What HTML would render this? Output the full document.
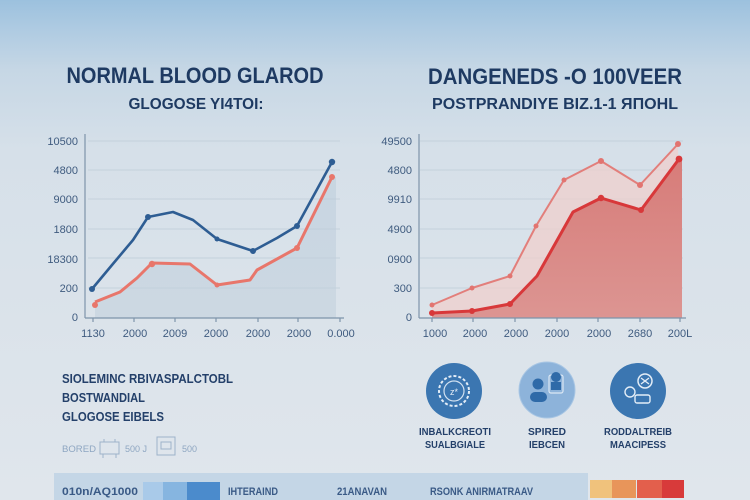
<!DOCTYPE html>
<html><head><meta charset="utf-8"><style>
html,body{margin:0;padding:0;width:750px;height:500px;overflow:hidden}
svg{display:block}
text{font-family:"Liberation Sans",sans-serif}
</style></head><body>
<svg width="750" height="500" viewBox="0 0 750 500" xmlns="http://www.w3.org/2000/svg">
<defs>
<linearGradient id="bg" x1="0" y1="0" x2="0" y2="1">
<stop offset="0" stop-color="#9cc1de"/>
<stop offset="0.06" stop-color="#afcbe2"/>
<stop offset="0.14" stop-color="#c6d7e5"/>
<stop offset="0.3" stop-color="#d6e0e9"/>
<stop offset="1" stop-color="#e0e6ec"/>
</linearGradient>
<linearGradient id="lfill" x1="0" y1="0" x2="0" y2="1">
<stop offset="0" stop-color="#b9cad9" stop-opacity="0.5"/>
<stop offset="1" stop-color="#c3d1dd" stop-opacity="0.6"/>
</linearGradient>
<linearGradient id="rdark" x1="0" y1="0" x2="0" y2="1">
<stop offset="0" stop-color="#d77c79"/>
<stop offset="1" stop-color="#dc9592"/>
</linearGradient>
</defs>
<rect width="750" height="500" fill="url(#bg)"/>

<!-- Titles -->
<g fill="#1e3a62" font-weight="bold" text-anchor="middle">
<text x="195" y="83" font-size="22" textLength="257" lengthAdjust="spacingAndGlyphs">NORMAL BLOOD GLAROD</text>
<text x="196" y="109" font-size="16" textLength="135" lengthAdjust="spacingAndGlyphs">GLOGOSE YI4TOI:</text>
<text x="555" y="84" font-size="22" textLength="254" lengthAdjust="spacingAndGlyphs">DANGENEDS -O 100VEER</text>
<text x="555" y="109" font-size="16" textLength="246" lengthAdjust="spacingAndGlyphs">POSTPRANDIYE  BIZ.1-1 ЯПОНL</text>
</g>

<!-- LEFT CHART -->
<g stroke="#c4d1dc" stroke-width="1">
<line x1="88" y1="141" x2="340" y2="141"/>
<line x1="88" y1="170" x2="340" y2="170"/>
<line x1="88" y1="199" x2="340" y2="199"/>
<line x1="88" y1="229" x2="340" y2="229"/>
<line x1="88" y1="258" x2="340" y2="258"/>
<line x1="88" y1="288" x2="340" y2="288"/>
</g>
<path d="M95,302 L120,292 L137,278 L152,263 L190,264 L217,285 L250,280 L257,270 L297,248 L332,177 L336,177 L336,318 L95,318 Z" fill="url(#lfill)"/>
<g stroke="#7e94aa" stroke-width="1.2" fill="none">
<line x1="85" y1="134" x2="85" y2="318"/>
<line x1="85" y1="318" x2="344" y2="318"/>
<line x1="93" y1="318" x2="93" y2="322"/><line x1="134" y1="318" x2="134" y2="322"/>
<line x1="175" y1="318" x2="175" y2="322"/><line x1="216" y1="318" x2="216" y2="322"/>
<line x1="258" y1="318" x2="258" y2="322"/><line x1="298" y1="318" x2="298" y2="322"/>
<line x1="340" y1="318" x2="340" y2="322"/>
</g>
<polyline points="92,289 112,265 133,240 148,217 173,212 193,220 217,239 253,251 277,238 297,226 332,162" fill="none" stroke="#2e5d93" stroke-width="2.6" stroke-linejoin="round"/>
<g fill="#2e5d93"><circle cx="92" cy="289" r="3"/><circle cx="148" cy="217" r="3"/><circle cx="217" cy="239" r="2.5"/><circle cx="253" cy="251" r="3"/><circle cx="297" cy="226" r="3"/><circle cx="332" cy="162" r="3.2"/></g>
<polyline points="95,302 120,292 137,278 152,263 190,264 217,285 250,280 257,270 297,248 332,177" fill="none" stroke="#e8766b" stroke-width="3" stroke-linejoin="round"/>
<g fill="#e8766b"><circle cx="95" cy="305" r="3"/><circle cx="152" cy="264" r="3.2"/><circle cx="217" cy="285" r="2.5"/><circle cx="297" cy="248" r="3"/><circle cx="332" cy="177" r="3"/></g>
<g fill="#3f5b7f" font-size="11" text-anchor="end">
<text x="78" y="145">10500</text>
<text x="78" y="174">4800</text>
<text x="78" y="203">9000</text>
<text x="78" y="233">1800</text>
<text x="78" y="263">18300</text>
<text x="78" y="292">200</text>
<text x="78" y="321">0</text>
</g>
<g fill="#3f5b7f" font-size="11" text-anchor="middle">
<text x="93" y="337">1130</text>
<text x="135" y="337">2000</text>
<text x="175" y="337">2009</text>
<text x="216" y="337">2000</text>
<text x="258" y="337">2000</text>
<text x="299" y="337">2000</text>
<text x="341" y="337">0.000</text>
</g>

<!-- RIGHT CHART -->
<g stroke="#c4d1dc" stroke-width="1">
<line x1="420" y1="141" x2="683" y2="141"/>
<line x1="420" y1="170" x2="683" y2="170"/>
<line x1="420" y1="199" x2="683" y2="199"/>
<line x1="420" y1="229" x2="683" y2="229"/>
<line x1="420" y1="258" x2="683" y2="258"/>
<line x1="420" y1="288" x2="683" y2="288"/>
</g>
<path d="M432,305 L472,288 L510,276 L536,226 L564,180 L601,161 L640,185 L678,144 L680,318 L432,318 Z" fill="#efcfcc" fill-opacity="0.75"/>
<path d="M432,313 L472,311 L510,304 L537,276 L573,212 L601,198 L641,210 L679,159 L682,159 L682,318 L432,318 Z" fill="url(#rdark)"/>
<g stroke="#7e94aa" stroke-width="1.2" fill="none">
<line x1="419" y1="134" x2="419" y2="318"/>
<line x1="419" y1="318" x2="686" y2="318"/>
<line x1="432" y1="318" x2="432" y2="322"/><line x1="473" y1="318" x2="473" y2="322"/>
<line x1="515" y1="318" x2="515" y2="322"/><line x1="557" y1="318" x2="557" y2="322"/>
<line x1="598" y1="318" x2="598" y2="322"/><line x1="640" y1="318" x2="640" y2="322"/>
<line x1="680" y1="318" x2="680" y2="322"/>
</g>
<polyline points="432,305 472,288 510,276 536,226 564,180 601,161 640,185 678,144" fill="none" stroke="#e27470" stroke-width="2" stroke-linejoin="round" stroke-opacity="0.9"/>
<g fill="#e27470"><circle cx="432" cy="305" r="2.5"/><circle cx="472" cy="288" r="2.5"/><circle cx="510" cy="276" r="2.5"/><circle cx="536" cy="226" r="2.5"/><circle cx="564" cy="180" r="2.5"/><circle cx="601" cy="161" r="3"/><circle cx="640" cy="185" r="3"/><circle cx="678" cy="144" r="3"/></g>
<polyline points="432,313 472,311 510,304 537,276 573,212 601,198 641,210 679,159" fill="none" stroke="#d8383a" stroke-width="3" stroke-linejoin="round"/>
<g fill="#d8383a"><circle cx="432" cy="313" r="3"/><circle cx="472" cy="311" r="3"/><circle cx="510" cy="304" r="3"/><circle cx="601" cy="198" r="3.2"/><circle cx="641" cy="210" r="3"/><circle cx="679" cy="159" r="3.4"/></g>
<g fill="#3f5b7f" font-size="11" text-anchor="end">
<text x="412" y="145">49500</text>
<text x="412" y="174">4800</text>
<text x="412" y="203">9910</text>
<text x="412" y="233">4900</text>
<text x="412" y="263">0900</text>
<text x="412" y="292">300</text>
<text x="412" y="321">0</text>
</g>
<g fill="#3f5b7f" font-size="11" text-anchor="middle">
<text x="435" y="337">1000</text>
<text x="475" y="337">2000</text>
<text x="516" y="337">2000</text>
<text x="557" y="337">2000</text>
<text x="599" y="337">2000</text>
<text x="640" y="337">2680</text>
<text x="680" y="337">200L</text>
</g>

<!-- Bottom-left text -->
<g fill="#24406a" font-weight="bold" font-size="13">
<text x="62" y="383" textLength="171" lengthAdjust="spacingAndGlyphs">SIOLEMINC RBIVASPALCTOBL</text>
<text x="62" y="402" textLength="83" lengthAdjust="spacingAndGlyphs">BOSTWANDIAL</text>
<text x="62" y="421" textLength="102" lengthAdjust="spacingAndGlyphs">GLOGOSE  EIBELS</text>
</g>
<g fill="#8ea6c2" font-size="9">
<text x="62" y="452" textLength="34" lengthAdjust="spacingAndGlyphs">BORED</text>
<text x="125" y="452">500 J</text>
<text x="182" y="452">500</text>
</g>
<g fill="none" stroke="#9db2ca" stroke-width="1">
<rect x="100" y="442" width="19" height="12"/>
<line x1="103" y1="454" x2="103" y2="458"/><line x1="116" y1="454" x2="116" y2="458"/>
<line x1="104" y1="442" x2="104" y2="439"/><line x1="115" y1="442" x2="115" y2="439"/>
<rect x="157" y="437" width="18" height="18"/>
<rect x="161" y="442" width="10" height="7"/>
</g>

<!-- Icons -->
<circle cx="454" cy="391" r="28" fill="#3b76b1"/>
<circle cx="454" cy="391" r="15" fill="none" stroke="#e3edf7" stroke-width="2" stroke-dasharray="3 2"/>
<circle cx="454" cy="391" r="10" fill="none" stroke="#d0e0f0" stroke-width="1.2"/>
<text x="454" y="395" fill="#e6eef7" font-size="9" text-anchor="middle">z*</text>
<circle cx="547" cy="390" r="28" fill="#8db3da"/>
<circle cx="547" cy="390" r="28" fill="none" stroke="#a8c6e4" stroke-width="1"/>
<rect x="549" y="375" width="14" height="18" rx="2" fill="none" stroke="#dbe7f3" stroke-width="1.2"/>
<circle cx="556" cy="377" r="5" fill="#2f6aa8"/>
<rect x="551" y="382" width="10" height="8" fill="#2f6aa8"/>
<circle cx="538" cy="384" r="5.5" fill="#2f6aa8"/>
<rect x="530" y="392" width="17" height="10" rx="5" fill="#2f6aa8"/>
<circle cx="638" cy="391" r="28" fill="#3b76b1"/>
<circle cx="645" cy="381" r="7" fill="none" stroke="#e3edf7" stroke-width="1.5"/>
<path d="M641,378 L649,384 M649,378 L641,384" stroke="#e3edf7" stroke-width="1.3"/>
<circle cx="630" cy="392" r="5" fill="none" stroke="#e3edf7" stroke-width="1.4"/>
<rect x="635" y="395" width="15" height="8" rx="2" fill="none" stroke="#e3edf7" stroke-width="1.4"/>
<g fill="#24406a" font-weight="bold" font-size="10.5" text-anchor="middle">
<text x="455" y="435" textLength="72" lengthAdjust="spacingAndGlyphs">INBALKCREOTI</text>
<text x="455" y="448" textLength="60" lengthAdjust="spacingAndGlyphs">SUALBGIALE</text>
<text x="547" y="435" textLength="38" lengthAdjust="spacingAndGlyphs">SPIRED</text>
<text x="547" y="448" textLength="36" lengthAdjust="spacingAndGlyphs">IEBCEN</text>
<text x="638" y="435" textLength="68" lengthAdjust="spacingAndGlyphs">RODDALTREIB</text>
<text x="638" y="448" textLength="56" lengthAdjust="spacingAndGlyphs">MAACIPESS</text>
</g>

<!-- Bottom bar -->
<rect x="54" y="473" width="534" height="27" fill="#c4d6e6"/>
<rect x="143" y="482" width="20" height="18" fill="#a9cae9"/>
<rect x="163" y="482" width="24" height="18" fill="#86b5e0"/>
<rect x="187" y="482" width="33" height="18" fill="#4b8bcc"/>
<g fill="#3a5a86" font-size="11" font-weight="bold">
<text x="62" y="495" textLength="76" lengthAdjust="spacingAndGlyphs">010n/AQ1000</text>
<text x="228" y="495" textLength="50" lengthAdjust="spacingAndGlyphs">IHTERAIND</text>
<text x="337" y="495" textLength="50" lengthAdjust="spacingAndGlyphs">21ANAVAN</text>
<text x="430" y="495" textLength="103" lengthAdjust="spacingAndGlyphs">RSONK ANIRMATRAAV</text>
</g>
<rect x="590" y="480" width="22" height="18" fill="#f0c27c"/>
<rect x="612" y="480" width="24" height="18" fill="#e8955a"/>
<rect x="637" y="480" width="25" height="18" fill="#e35f4c"/>
<rect x="662" y="480" width="22" height="18" fill="#d83a3a"/>
</svg>
</body></html>
